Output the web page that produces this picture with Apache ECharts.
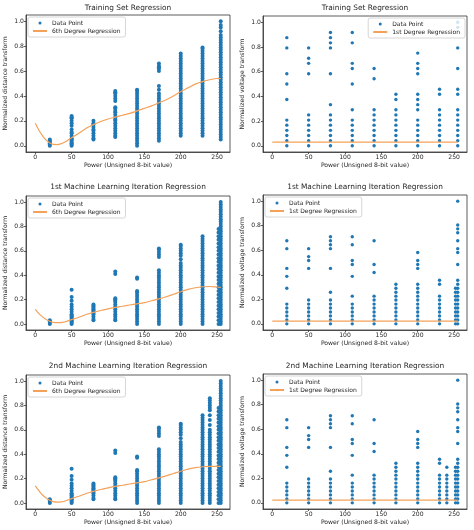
<!DOCTYPE html>
<html><head><meta charset="utf-8">
<script src="https://cdn.jsdelivr.net/npm/echarts@6/dist/echarts.min.js"></script>
<style>html,body{margin:0;padding:0;background:#fff}#c{width:474px;height:530px}</style>
</head><body><div id="c"></div><script>
// ---------------- DATA ----------------
const titles = ['Training Set Regression', 'Training Set Regression',
  '1st Machine Learning Iteration Regression', '1st Machine Learning Iteration Regression',
  '2nd Machine Learning Iteration Regression', '2nd Machine Learning Iteration Regression'];
const xTickValues = [0, 50, 100, 150, 200, 250];
const yTickValues = [0, 0.2, 0.4, 0.6, 0.8, 1.0];
const xName = 'Power (Unsigned 8-bit value)';
const distName = 'Normalized distance transform';
const voltName = 'Normalized voltage transform';
const powers = [20, 50, 80, 110, 140, 170, 200, 230, 255];

// Training set: distance transform per power column
const trainDist = [
  [0.0,0.01,0.02,0.03,0.04,0.05],
  [0.0,0.01,0.02,0.03,0.04,0.05,0.06,0.08,0.1,0.11,0.13,0.16,0.18,0.2,0.22,0.23,0.24],
  [0.05,0.06,0.08,0.1,0.12,0.13,0.15,0.17,0.18,0.2],
  [0.07,0.08,0.1,0.12,0.14,0.16,0.18,0.2,0.21,0.23,0.25,0.27,0.28,0.3,0.31,0.36,0.38,0.4,0.42,0.43,0.44],
  [0.0,0.02,0.04,0.06,0.08,0.1,0.12,0.14,0.16,0.18,0.2,0.22,0.24,0.26,0.28,0.3,0.32,0.34,0.36,0.38,0.4,0.42,0.44,0.45],
  [0.04,0.06,0.08,0.1,0.12,0.14,0.16,0.18,0.2,0.22,0.24,0.26,0.28,0.3,0.32,0.34,0.36,0.38,0.4,0.42,0.45,0.48,0.6,0.62,0.63,0.64,0.66],
  [0.08,0.1,0.12,0.14,0.16,0.18,0.2,0.22,0.24,0.26,0.28,0.3,0.32,0.34,0.36,0.38,0.4,0.42,0.44,0.46,0.48,0.5,0.52,0.54,0.56,0.58,0.6,0.62,0.64,0.66,0.68,0.7,0.72,0.74],
  [0.08,0.1,0.12,0.14,0.16,0.18,0.2,0.22,0.24,0.26,0.28,0.3,0.32,0.34,0.36,0.38,0.4,0.42,0.44,0.46,0.48,0.5,0.52,0.54,0.56,0.58,0.6,0.62,0.64,0.66,0.68,0.7,0.72,0.74,0.76,0.78,0.79],
  [0.05,0.07,0.09,0.11,0.13,0.15,0.17,0.19,0.21,0.23,0.25,0.27,0.29,0.31,0.33,0.35,0.37,0.39,0.41,0.43,0.45,0.47,0.49,0.51,0.53,0.55,0.57,0.59,0.61,0.63,0.65,0.67,0.69,0.71,0.73,0.75,0.77,0.79,0.81,0.83,0.85,0.87,0.89,0.92,0.95,0.97,1.0]
];
// Iterations 1 & 2: distance transform per power column
const iterDist = [
  [0.0,0.01,0.02,0.03],
  [0.0,0.01,0.02,0.03,0.04,0.05,0.06,0.07,0.08,0.1,0.12,0.14,0.16,0.19,0.22,0.28],
  [0.03,0.04,0.06,0.08,0.09,0.1,0.11,0.12,0.13,0.14,0.15,0.16],
  [0.03,0.04,0.06,0.08,0.1,0.12,0.14,0.16,0.18,0.19,0.2,0.21,0.41,0.43],
  [0.0,0.02,0.04,0.06,0.08,0.1,0.12,0.14,0.16,0.18,0.2,0.22,0.24,0.26,0.27,0.37,0.38],
  [0.0,0.02,0.04,0.06,0.08,0.1,0.12,0.14,0.16,0.18,0.2,0.22,0.24,0.26,0.28,0.3,0.32,0.34,0.36,0.38,0.4,0.42,0.44,0.55,0.57,0.59,0.61,0.62],
  [0.0,0.02,0.04,0.06,0.08,0.1,0.12,0.14,0.16,0.18,0.2,0.22,0.24,0.26,0.28,0.3,0.32,0.34,0.36,0.38,0.4,0.42,0.44,0.46,0.48,0.5,0.53,0.56,0.58,0.6,0.62,0.64,0.65],
  [0.0,0.02,0.04,0.06,0.08,0.1,0.12,0.14,0.16,0.18,0.2,0.22,0.24,0.26,0.28,0.3,0.32,0.34,0.36,0.38,0.4,0.42,0.44,0.46,0.48,0.5,0.52,0.54,0.56,0.58,0.6,0.62,0.64,0.66,0.68,0.7,0.72],
  [0.0,0.02,0.04,0.06,0.08,0.1,0.12,0.14,0.16,0.18,0.2,0.22,0.24,0.26,0.28,0.3,0.32,0.34,0.36,0.38,0.4,0.42,0.44,0.46,0.48,0.5,0.52,0.54,0.56,0.58,0.6,0.62,0.64,0.66,0.68,0.7,0.72,0.74,0.76,0.78,0.8,0.82,0.84,0.86,0.88,0.9,0.92,0.94,0.96,0.98,1.0]
];
const iterDist252 = [0.0,0.03,0.06,0.09,0.12,0.15,0.18,0.21,0.24,0.27,0.3,0.33,0.36,0.39,0.42,0.45,0.48,0.51,0.54,0.57,0.6,0.63,0.66,0.69,0.72,0.75,0.78];
const iter2Dist240 = [0.0,0.02,0.04,0.06,0.08,0.1,0.12,0.14,0.16,0.18,0.2,0.22,0.24,0.26,0.28,0.3,0.32,0.34,0.36,0.38,0.4,0.42,0.44,0.46,0.48,0.5,0.52,0.54,0.56,0.58,0.6,0.64,0.68,0.72,0.76,0.78,0.8,0.82,0.84,0.86];

// Training set: voltage transform per power column
const trainVolt = [
  [0,0.042,0.083,0.125,0.167,0.208,0.375,0.5,0.583,0.792,0.875],
  [0,0.042,0.083,0.125,0.167,0.208,0.25,0.583,0.667,0.708,0.792],
  [0,0.042,0.083,0.125,0.167,0.208,0.25,0.333,0.583,0.792,0.833,0.875,0.917],
  [0,0.042,0.083,0.125,0.167,0.208,0.292,0.5,0.625,0.667,0.833,0.917],
  [0,0.042,0.083,0.125,0.167,0.208,0.25,0.292,0.542,0.625],
  [0,0.042,0.083,0.125,0.167,0.208,0.25,0.292,0.375,0.417],
  [0,0.042,0.083,0.125,0.167,0.208,0.292,0.333,0.375,0.417,0.583,0.625,0.667,0.75],
  [0,0.042,0.083,0.125,0.167,0.208,0.25,0.292,0.417,0.458],
  [0,0.042,0.083,0.125,0.167,0.208,0.25,0.292,0.417,0.458,0.625,0.792,0.958,1.0]
];
// Iterations 1 & 2: voltage transform per power column
const iterVolt = [
  [0,0.032,0.065,0.097,0.129,0.161,0.29,0.387,0.452,0.613,0.677],
  [0,0.032,0.065,0.097,0.129,0.161,0.194,0.452,0.516,0.548,0.613],
  [0,0.032,0.065,0.097,0.129,0.161,0.194,0.258,0.452,0.613,0.645,0.677,0.71],
  [0,0.032,0.065,0.097,0.129,0.161,0.226,0.387,0.484,0.516,0.645,0.71],
  [0,0.032,0.065,0.097,0.129,0.161,0.194,0.226,0.419,0.484,0.677],
  [0,0.032,0.065,0.097,0.129,0.161,0.194,0.226,0.258,0.29,0.323],
  [0,0.032,0.065,0.097,0.129,0.161,0.194,0.226,0.258,0.29,0.323,0.452,0.484,0.516,0.581],
  [0,0.032,0.065,0.097,0.129,0.161,0.194,0.226,0.323,0.355],
  [0,0.032,0.065,0.097,0.129,0.161,0.194,0.226,0.258,0.29,0.323,0.355,0.484,0.581,0.613,0.677,0.742,0.774,0.806,1.0]
];
const iterVolt252 = [0,0.032,0.065,0.097,0.129,0.161,0.194,0.226,0.258,0.29];
const iter2Volt240 = [0,0.032,0.065,0.097,0.129,0.161,0.194,0.226,0.29];

// Regression curves
const curveX = [0,5,10,15,20,25,30,35,40,50,60,70,80,90,100,110,120,130,140,150,160,170,180,190,200,210,220,230,240,250,255];
const trainCurve = [0.18,0.125,0.08,0.045,0.022,0.011,0.01,0.015,0.028,0.065,0.1,0.14,0.17,0.195,0.215,0.23,0.245,0.26,0.28,0.3,0.32,0.345,0.37,0.4,0.435,0.465,0.495,0.515,0.53,0.54,0.54];
const iter1Curve = [0.12,0.085,0.058,0.036,0.022,0.013,0.01,0.011,0.016,0.035,0.055,0.077,0.095,0.11,0.123,0.135,0.145,0.155,0.165,0.175,0.19,0.205,0.223,0.243,0.264,0.283,0.297,0.305,0.307,0.303,0.3];
const iter2Curve = [0.14,0.1,0.065,0.04,0.022,0.01,0.006,0.008,0.014,0.035,0.055,0.077,0.095,0.11,0.123,0.135,0.145,0.155,0.165,0.175,0.19,0.205,0.222,0.241,0.26,0.278,0.29,0.297,0.3,0.3,0.3];
const lineX = [0, 255];
const trainVoltLine = [0.03, 0.03];
const iterVoltLine = [0.022, 0.022];

// ---------------- BUILD ----------------
function cols(xs, ys, extra) {
  const out = [];
  xs.forEach((x, i) => ys[i].forEach(v => out.push([x, v])));
  (extra || []).forEach(([x, arr]) => arr.forEach(v => out.push([x, v])));
  return out;
}
function pairs(xs, ys) { return xs.map((x, i) => [x, ys[i]]); }

const panelScatter = [
  cols(powers, trainDist),
  cols(powers, trainVolt),
  cols(powers, iterDist, [[252, iterDist252]]),
  cols(powers, iterVolt, [[252, iterVolt252]]),
  cols(powers, iterDist, [[252, iterDist252], [240, iter2Dist240]]),
  cols(powers, iterVolt, [[252, iterVolt252], [240, iter2Volt240]])
];
const panelLine = [
  pairs(curveX, trainCurve), pairs(lineX, trainVoltLine),
  pairs(curveX, iter1Curve), pairs(lineX, iterVoltLine),
  pairs(curveX, iter2Curve), pairs(lineX, iterVoltLine)
];
const lineNames = ['6th Degree Regression', '1st Degree Regression'];

const grids = [
  {left: 26, top: 15, width: 204, height: 137},
  {left: 263, top: 16, width: 204, height: 136},
  {left: 26, top: 196, width: 204, height: 134},
  {left: 263, top: 195, width: 204, height: 135},
  {left: 26, top: 375, width: 204, height: 134},
  {left: 263, top: 374, width: 204, height: 135}
];
const titleTops = [5, 5, 184, 184, 363, 363];
const FONT = 'DejaVu Sans';
const TXT = '#262626';
const BLUE = '#1f77b4';
const ORANGE = '#f4a259';

const option = {
  animation: false,
  backgroundColor: '#fff',
  textStyle: {fontFamily: FONT},
  title: grids.map((g, i) => ({
    text: titles[i], left: g.left + g.width / 2, top: titleTops[i], textAlign: 'center', padding: 0,
    textStyle: {fontFamily: FONT, fontSize: 7.4, fontWeight: 'normal', color: TXT}
  })),
  grid: grids.map(g => Object.assign({show: true, borderColor: '#333', borderWidth: 0.8, backgroundColor: 'transparent'}, g)),
  xAxis: grids.map((g, i) => ({
    type: 'value', gridIndex: i, min: -12.75, max: 267.75,
    name: xName, nameLocation: 'middle', nameGap: 10,
    nameTextStyle: {fontFamily: FONT, fontSize: 6.1, color: TXT},
    axisLine: {show: true, onZero: false, lineStyle: {color: '#333', width: 0.8}},
    axisTick: {show: true, length: 2, customValues: xTickValues, lineStyle: {color: '#333', width: 0.8}},
    axisLabel: {customValues: xTickValues, margin: 2, fontFamily: FONT, fontSize: 6.1, color: TXT},
    splitLine: {show: false}
  })),
  yAxis: grids.map((g, i) => ({
    type: 'value', gridIndex: i, min: -0.05, max: 1.05,
    name: i % 2 === 0 ? distName : voltName, nameLocation: 'middle', nameGap: 18,
    nameTextStyle: {fontFamily: FONT, fontSize: 6.1, color: TXT},
    axisLine: {show: true, onZero: false, lineStyle: {color: '#333', width: 0.8}},
    axisTick: {show: true, length: 2, customValues: yTickValues, lineStyle: {color: '#333', width: 0.8}},
    axisLabel: {customValues: yTickValues, margin: 2, fontFamily: FONT, fontSize: 6.1, color: TXT,
      formatter: v => v.toFixed(1)},
    splitLine: {show: false}
  })),
  legend: grids.map((g, i) => {
    const l = {
      orient: 'vertical', selectedMode: false,
      data: ['Data Point', lineNames[i % 2]],
      top: g.top + 2,
      itemWidth: 14, itemHeight: 3, itemGap: 2,
      padding: [3, 5, 3, 4],
      backgroundColor: 'rgba(255,255,255,0.8)',
      borderColor: '#cccccc', borderWidth: 0.8, borderRadius: 2,
      textStyle: {fontFamily: FONT, fontSize: 6, color: TXT}
    };
    if (i === 1) l.right = 474 - (g.left + g.width) + 2; else l.left = g.left + 2;
    return l;
  }),
  series: []
};
grids.forEach((g, i) => {
  option.series.push({
    type: 'scatter', name: 'Data Point', xAxisIndex: i, yAxisIndex: i,
    data: panelScatter[i], symbol: 'circle', symbolSize: i % 2 === 0 ? 4 : 3.4,
    itemStyle: {color: BLUE, opacity: 1}, z: 2, silent: true
  });
  option.series.push({
    type: 'line', name: lineNames[i % 2], xAxisIndex: i, yAxisIndex: i,
    data: panelLine[i], symbol: 'none', smooth: i % 2 === 0 ? 0.4 : false,
    lineStyle: {color: ORANGE, width: 1.2}, itemStyle: {color: ORANGE}, z: 3, silent: true
  });
});
const chart = echarts.init(document.getElementById('c'), null, {renderer: 'canvas'});
chart.setOption(option);
</script></body></html>
